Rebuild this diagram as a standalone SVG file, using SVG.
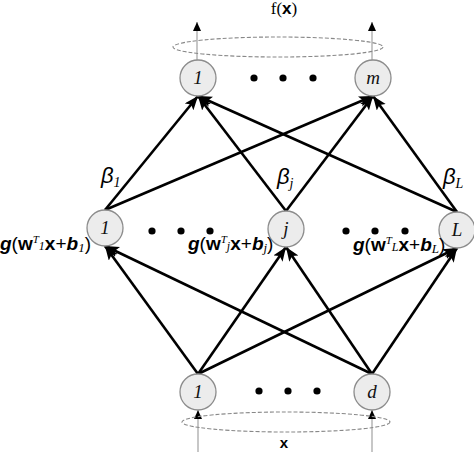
<svg xmlns="http://www.w3.org/2000/svg" width="474" height="452" viewBox="0 0 474 452">
<defs>
<marker id="ah" markerUnits="userSpaceOnUse" markerWidth="16" markerHeight="12" refX="14" refY="5.5" orient="auto">
<path d="M0,0 L14,5.5 L0,11 L3,5.5 z" fill="#000"/>
</marker>
<marker id="sa" markerUnits="userSpaceOnUse" markerWidth="8" markerHeight="10" refX="4" refY="0" orient="0">
<path d="M0,9 L4,0 L8,9 z" fill="#000"/>
</marker>
</defs>
<style>
.node circle{fill:#ececec;stroke:#8c8c8c;stroke-width:1.3}
.node text{font-family:"Liberation Serif",serif;font-style:italic;font-size:19px;text-anchor:middle;fill:#111}
.conn line{stroke:#000;stroke-width:2.6;marker-end:url(#ah)}
.io line{stroke:#999;stroke-width:1.1}
.ell{fill:none;stroke:#888;stroke-width:1.1;stroke-dasharray:4,2}
.dot{fill:#000}
.beta{font-family:"Liberation Sans",sans-serif;font-style:italic;font-size:22px;fill:#000}
.g{font-family:"Liberation Sans",sans-serif;font-size:19px;fill:#000}
</style>
<rect width="474" height="452" fill="#fff"/>
<g id="connectors" class="conn">
<line x1="105" y1="210" x2="198" y2="96"/>
<line x1="105" y1="210" x2="373" y2="96"/>
<line x1="286" y1="211" x2="198" y2="96"/>
<line x1="286" y1="211" x2="373" y2="96"/>
<line x1="457" y1="212" x2="198" y2="96"/>
<line x1="457" y1="212" x2="373" y2="96"/>
<line x1="198" y1="374" x2="105" y2="246"/>
<line x1="198" y1="374" x2="286" y2="247"/>
<line x1="198" y1="374" x2="457" y2="248"/>
<line x1="372" y1="374" x2="105" y2="246"/>
<line x1="372" y1="374" x2="286" y2="247"/>
<line x1="372" y1="374" x2="457" y2="248"/>
</g>
<g id="io-arrows" class="io">
<line x1="197" y1="60" x2="197" y2="22" marker-end="url(#sa)"/>
<line x1="372" y1="60" x2="372" y2="22" marker-end="url(#sa)"/>
<line x1="198" y1="452" x2="198" y2="410" marker-end="url(#sa)"/>
<line x1="372" y1="452" x2="372" y2="410" marker-end="url(#sa)"/>
</g>
<ellipse class="ell" cx="278" cy="47" rx="105" ry="10"/>
<ellipse class="ell" cx="286" cy="422" rx="104" ry="10"/>
<text x="284" y="14" style="font-family:'Liberation Serif',serif;font-size:17px" text-anchor="middle">f(<tspan style="font-family:'Liberation Sans',sans-serif;font-weight:bold">x</tspan>)</text>
<text x="284" y="448" style="font-family:'Liberation Sans',sans-serif;font-weight:bold;font-size:15px" text-anchor="middle">x</text>
<g id="out-1" class="node"><circle cx="198" cy="78" r="18"/><text x="198" y="84">1</text></g>
<g id="out-m" class="node"><circle cx="373" cy="78" r="18"/><text x="373" y="84">m</text></g>
<g id="hid-1" class="node"><circle cx="105" cy="228" r="18"/><text x="105" y="234">1</text></g>
<g id="hid-j" class="node"><circle cx="286" cy="229" r="18"/><text x="286" y="235">j</text></g>
<g id="hid-L" class="node"><circle cx="457" cy="230" r="18"/><text x="457" y="236">L</text></g>
<g id="in-1" class="node"><circle cx="198" cy="392" r="18"/><text x="198" y="398">1</text></g>
<g id="in-d" class="node"><circle cx="372" cy="392" r="18"/><text x="372" y="398">d</text></g>
<g id="dots">
<circle class="dot" cx="254" cy="78" r="3.6"/><circle class="dot" cx="283" cy="78" r="3.6"/><circle class="dot" cx="313" cy="78" r="3.6"/>
<circle class="dot" cx="152" cy="231" r="3.6"/><circle class="dot" cx="181" cy="231" r="3.6"/><circle class="dot" cx="210" cy="231" r="3.6"/>
<circle class="dot" cx="346" cy="231" r="3.6"/><circle class="dot" cx="375" cy="231" r="3.6"/><circle class="dot" cx="405" cy="231" r="3.6"/>
<circle class="dot" cx="259" cy="391" r="3.6"/><circle class="dot" cx="288" cy="391" r="3.6"/><circle class="dot" cx="317" cy="391" r="3.6"/>
</g>
<g id="labels">
<text class="beta" x="101" y="183">β<tspan font-size="14" dy="4" font-family="Liberation Serif">1</tspan></text>
<text class="beta" x="277" y="184">β<tspan font-size="14" dy="4" font-family="Liberation Serif">j</tspan></text>
<text class="beta" x="443" y="184">β<tspan font-size="14" dy="4" font-family="Liberation Serif">L</tspan></text>
<text class="g" x="0" y="250"><tspan font-weight="bold" font-style="italic">g</tspan>(<tspan font-weight="bold">w</tspan><tspan font-size="11" dy="-7" font-style="italic" font-family="Liberation Serif">T</tspan><tspan font-size="12" dy="7" font-style="italic" font-family="Liberation Serif">1</tspan><tspan font-weight="bold">x</tspan>+<tspan font-weight="bold" font-style="italic">b</tspan><tspan font-size="13" dy="2" font-style="italic" font-family="Liberation Serif">1</tspan><tspan dy="-2">)</tspan></text>
<text class="g" x="188" y="250"><tspan font-weight="bold" font-style="italic">g</tspan>(<tspan font-weight="bold">w</tspan><tspan font-size="11" dy="-7" font-style="italic" font-family="Liberation Serif">T</tspan><tspan font-size="12" dy="7" font-style="italic" font-family="Liberation Serif">j</tspan><tspan font-weight="bold">x</tspan>+<tspan font-weight="bold" font-style="italic">b</tspan><tspan font-size="13" dy="2" font-style="italic" font-family="Liberation Serif">j</tspan><tspan dy="-2">)</tspan></text>
<text class="g" x="353" y="251"><tspan font-weight="bold" font-style="italic">g</tspan>(<tspan font-weight="bold">w</tspan><tspan font-size="11" dy="-7" font-style="italic" font-family="Liberation Serif">T</tspan><tspan font-size="12" dy="7" font-style="italic" font-family="Liberation Serif">L</tspan><tspan font-weight="bold">x</tspan>+<tspan font-weight="bold" font-style="italic">b</tspan><tspan font-size="13" dy="2" font-style="italic" font-family="Liberation Serif">L</tspan><tspan dy="-2">)</tspan></text>
</g>
</svg>
